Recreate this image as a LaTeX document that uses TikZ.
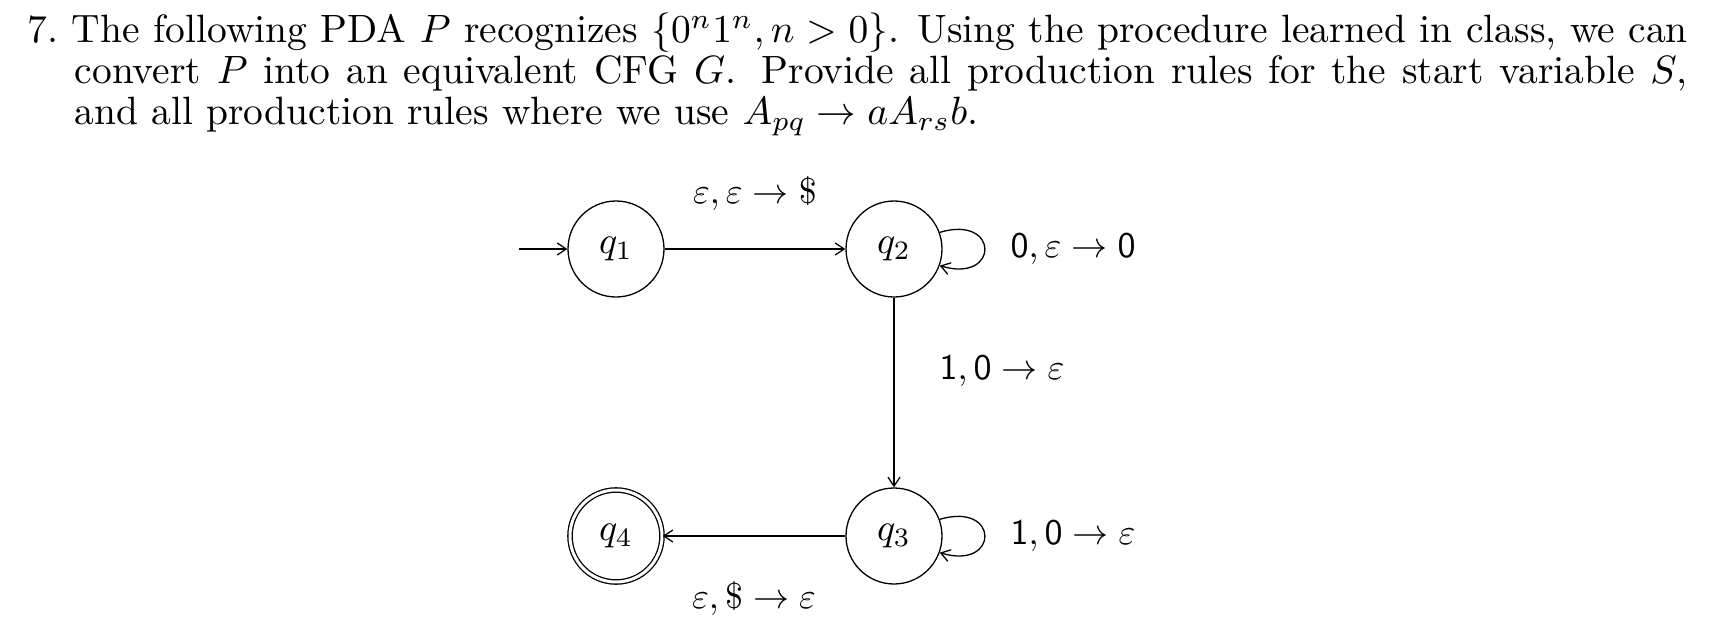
\documentclass[tikz,border=0pt]{standalone}
\usetikzlibrary{arrows.meta}
\begin{document}
\begin{tikzpicture}[x=1pt,y=-1pt,
  st/.style={draw,circle,minimum size=96pt,inner sep=0pt,line width=1.3pt},
  stl/.style={inner sep=0pt,scale=3.8},
  ed/.style={line width=1.3pt,-{Straight Barb[length=9pt,width=12pt,line width=1.3pt]}},
  lab/.style={inner sep=0pt,scale=3.6}]
\useasboundingbox (0,0) rectangle (1714,616);
\node[anchor=north west,inner sep=0pt,text width=420.3pt,align=justify,scale=3.95] (txt) at (27,12)
 {\fontsize{10}{10.4}\selectfont\hangindent=11.9pt\hangafter=1 7.~The following PDA $P$ recognizes $\{0^n1^n, n>0\}$. Using the procedure learned in class, we can convert $P$ into an equivalent CFG $G$. Provide all production rules for the start variable $S$, and all production rules where we use $A_{pq}\to aA_{rs}b$.\par};
\node[st] (q1) at (616,249) {};
\node[st] (q2) at (894,249) {};
\node[st] (q3) at (894,536) {};
\node[st,double,double distance=3pt,minimum size=92pt] (q4) at (616,536) {};
\node[stl] (t1) at (q1) {$q_1$};
\node[stl] (t2) at (q2) {$q_2$};
\node[stl] (t3) at (q3) {$q_3$};
\node[stl] (t4) at (q4) {$q_4$};
\coordinate (s) at (519,249);
\draw[ed] (s) -- (q1);
\draw[ed] (q1) -- node[lab,above=10pt] {$\varepsilon,\varepsilon\to\mathsf{\$}$} (q2);
\draw[ed] (q2) -- node[lab,right=12pt,yshift=6pt] {$\mathsf{1},\mathsf{0}\to\varepsilon$} (q3);
\draw[ed] (q3) -- node[lab,below=12pt] {$\varepsilon,\mathsf{\$}\to\varepsilon$} (q4);
\draw[ed] (q2.20) .. controls +(60,-18) and +(60,18) .. (q2.-20);
\draw[ed] (q3.20) .. controls +(60,-18) and +(60,18) .. (q3.-20);
\node[lab,anchor=west] (l2) at (1010,249) {$\mathsf{0},\varepsilon\to\mathsf{0}$};
\node[lab,anchor=west] (l3) at (1010,536) {$\mathsf{1},\mathsf{0}\to\varepsilon$};
\end{tikzpicture}
\end{document}
